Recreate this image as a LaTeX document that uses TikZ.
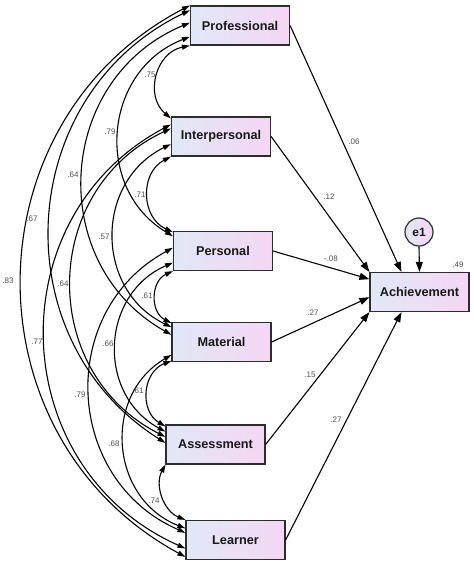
\documentclass[tikz,border=0pt]{standalone}
\usepackage{fontspec}
\setmainfont{Liberation Sans}
\usetikzlibrary{arrows.meta,calc,shadings}
\definecolor{boxL}{RGB}{226,231,246}
\definecolor{boxR}{RGB}{244,214,244}
\definecolor{edgec}{RGB}{45,45,45}
\definecolor{labc}{RGB}{80,80,80}
\begin{document}
\begin{tikzpicture}[x=1pt,y=1pt,
  var/.style={draw=edgec, line width=1.2pt, left color=boxL, right color=boxR,
    minimum width=99pt, minimum height=39pt, inner sep=0pt, text=black!90,
    font=\fontsize{12.7}{14}\selectfont\bfseries},
  err/.style={circle, draw=edgec, line width=1.2pt, left color=boxL, right color=boxR,
    minimum size=28pt, inner sep=0pt, text=black!90,
    font=\fontsize{12}{14}\selectfont\bfseries},
  reg/.style={line width=1.1pt, -{Triangle[length=10pt,width=7pt]}},
  cov/.style={line width=1.1pt, {Triangle[length=8pt,width=5pt]}-{Triangle[length=8pt,width=5pt]},
    bend right=64, looseness=1.19},
  lbl/.style={font=\fontsize{8}{9}\selectfont, text=labc, inner sep=0pt}
]
\fill[white] (0,0) rectangle (474,-563);
\useasboundingbox (0,0) rectangle (474,-563);

\node[var] (P)  at (240,-25.5)   {Professional};
\node[var] (I)  at (221,-136.5)  {Interpersonal};
\node[var] (Pe) at (223,-251)    {Personal};
\node[var] (M)  at (221.5,-342)  {Material};
\node[var] (A)  at (215.5,-444.5){Assessment};
\node[var] (L)  at (235.5,-540)  {Learner};
\node[var] (Ach) at (419.5,-292) {Achievement};
\node[err] (e1) at (419,-232) {e1};

% attachment points on the left edges
\foreach \b/\f/\n in {P/0.0/L, P/0.12/A, P/0.43/M, P/0.78/Pe, P/1.0/I,
                      I/0.05/P, I/0.2/L, I/0.3/A, I/0.69/M, I/1.0/Pe,
                      Pe/0.03/I, Pe/0.13/P, Pe/0.42/L, Pe/0.79/A, Pe/1.0/M,
                      M/0.03/Pe, M/0.13/I, M/0.32/P, M/0.82/L, M/0.97/A,
                      A/0.05/M, A/0.18/Pe, A/0.31/I, A/0.46/P, A/1.0/L,
                      L/0.0/A, L/0.21/M, L/0.32/Pe, L/0.71/I, L/0.92/P}
  \coordinate (\b-\n) at ($(\b.north west)!\f!(\b.south west)$);

% covariances
\draw[cov, bend right=62, looseness=1.16] (P-L)  to (L-P);
\draw[cov, bend right=61, looseness=1.15] (P-A)  to (A-P);
\draw[cov] (P-M)  to (M-P);
\draw[cov] (P-Pe) to (Pe-P);
\draw[cov] (P-I)  to (I-P);
\draw[cov] (I-L)  to (L-I);
\draw[cov] (I-A)  to (A-I);
\draw[cov] (I-M)  to (M-I);
\draw[cov] (I-Pe) to (Pe-I);
\draw[cov] (Pe-L) to (L-Pe);
\draw[cov] (Pe-A) to (A-Pe);
\draw[cov] (Pe-M) to (M-Pe);
\draw[cov] (M-L)  to (L-M);
\draw[cov] (M-A)  to (A-M);
\draw[cov, bend right=48, looseness=1.02] (A-L)  to (L-A);

% regressions
\draw[reg] (P.east)  -- ($(Ach.north west)!0.32!(Ach.north east)$);
\draw[reg] (I.east)  -- (Ach.north west);
\draw[reg] (Pe.east) -- ($(Ach.north west)!0.18!(Ach.south west)$);
\draw[reg] (M.east)  -- ($(Ach.north west)!0.63!(Ach.south west)$);
\draw[reg] (A.east)  -- (Ach.south west);
\draw[reg] (L.east)  -- ($(Ach.south west)!0.32!(Ach.south east)$);
\draw[reg] (e1.south) -- (Ach.north);

% regression labels
\node[lbl] (r1) at (354,-142) {.06};
\node[lbl] (r2) at (329,-197) {.12};
\node[lbl] (r3) at (331,-259) {-.08};
\node[lbl] (r4) at (313,-313) {.27};
\node[lbl] (r5) at (310,-375) {.15};
\node[lbl] (r6) at (336,-420) {.27};
\node[lbl] (r7) at (458,-265) {.49};

% covariance labels
\node[lbl] (c1)  at (150,-75)  {.75};
\node[lbl] (c2)  at (110,-132) {.79};
\node[lbl] (c3)  at (73,-175)  {.64};
\node[lbl] (c4)  at (32,-219)  {.67};
\node[lbl] (c5)  at (8,-281)   {.83};
\node[lbl] (c6)  at (140,-195) {.71};
\node[lbl] (c7)  at (104,-237) {.57};
\node[lbl] (c8)  at (63,-284)  {.64};
\node[lbl] (c9)  at (37,-342)  {.77};
\node[lbl] (c10) at (147,-296) {.61};
\node[lbl] (c11) at (108,-344) {.66};
\node[lbl] (c12) at (80,-395)  {.79};
\node[lbl] (c13) at (138,-391) {.61};
\node[lbl] (c14) at (114,-444) {.68};
\node[lbl] (c15) at (154,-501) {.74};
\end{tikzpicture}
\end{document}
